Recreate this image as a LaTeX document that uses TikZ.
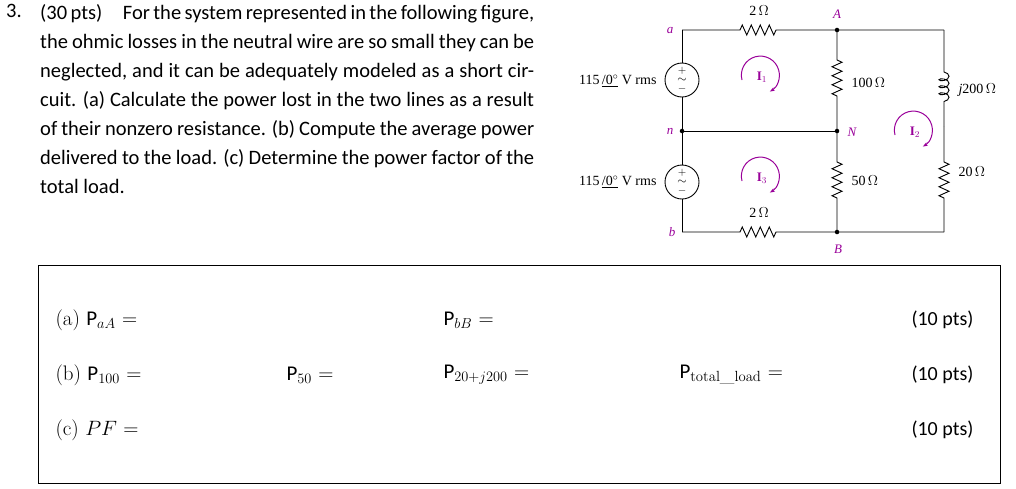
\documentclass[tikz,border=0pt]{standalone}
\usepackage{fontspec}
\newfontfamily\carl{Carlito}
\newfontfamily\tms{Liberation Serif}
\usetikzlibrary{decorations.pathmorphing,arrows.meta}
\begin{document}
\begin{tikzpicture}[x=1pt,y=-1pt,
  wire/.style={line width=0.9pt},
  zz/.style={decoration={zigzag,segment length=9,amplitude=5}},
  lbl/.style={font=\tms\fontsize{14}{14}\selectfont},
  plbl/.style={font=\tms\itshape\fontsize{13}{13}\selectfont,text=violet!80!magenta},
  dot/.style={circle,fill,inner sep=1.6pt},
  loop/.style={violet!80!magenta,line width=1pt,-{Stealth[length=5pt]}},
  row/.style={anchor=west,font=\fontsize{21}{21}\selectfont}]
\useasboundingbox (0,0) rectangle (1016,488);
% problem text
\node[anchor=north west,inner sep=0,font=\carl\fontsize{20.5}{29}\selectfont] (num) at (6,4) {3.};
\node[anchor=north west,inner sep=0,text width=494pt,align=justify,font=\carl\fontsize{20.5}{29}\selectfont] (txt) at (40,4)
{(30 pts)\quad For the system represented in the following figure, the ohmic losses in the neutral wire are so small they can be neglected, and it can be adequately modeled as a short circuit. (a) Calculate the power lost in the two lines as a result of their nonzero resistance. (b) Compute the average power delivered to the load. (c) Determine the power factor of the total load.};
% circuit coordinates
\coordinate (a) at (682,30); \coordinate (A) at (837,30); \coordinate (AR) at (944,30);
\coordinate (n) at (682,131); \coordinate (N) at (837,131);
\coordinate (b) at (682,232); \coordinate (B) at (837,232); \coordinate (BR) at (944,232);
\node[circle,draw,line width=0.9pt,minimum size=34pt,inner sep=0] (s1) at (682,80) {};
\node[circle,draw,line width=0.9pt,minimum size=34pt,inner sep=0] (s2) at (682,182) {};
\foreach \s in {s1,s2}{
  \node[font=\fontsize{11}{11}\selectfont,inner sep=0] at ([yshift=9]\s.center) {$+$};
  \node[font=\fontsize{12}{12}\selectfont,inner sep=0] at (\s.center) {$\sim$};
  \node[font=\fontsize{11}{11}\selectfont,inner sep=0] at ([yshift=-9]\s.center) {$-$};}
\draw[wire] (a) -- (s1.north) (s1.south) -- (n) -- (s2.north) (s2.south) -- (b);
\draw[wire] (a) -- (740,30) decorate[zz]{-- (779,30)} -- (A) -- (AR);
\draw[wire] (b) -- (740,232) decorate[zz]{-- (779,232)} -- (B) -- (BR);
\draw[wire] (A) -- (837,60) decorate[zz]{-- (837,99)} -- (N);
\draw[wire] (N) -- (837,162) decorate[zz]{-- (837,200)} -- (B);
\draw[wire] (BR) -- (944,198) decorate[zz]{-- (944,160)} -- (944,126);
\draw[wire] (n) -- (N);
\draw[wire] (AR) -- (944,72) decorate[decoration={coil,segment length=7,amplitude=5,aspect=0.5}]{-- (944,104)} -- (944,126);
\node[dot] (dA) at (A) {}; \node[dot] (dN) at (N) {}; \node[dot] (dn) at (n) {}; \node[dot] (dB) at (B) {};
% labels
\node[lbl] (r1) at (759,11) {2\,$\Omega$};
\node[lbl] (r2) at (759,213) {2\,$\Omega$};
\node[lbl,anchor=west] (r3) at (848,83) {100\,$\Omega$};
\node[lbl,anchor=west] (r4) at (848,181) {50\,$\Omega$};
\node[lbl,anchor=west] (r5) at (955,90) {\textit{j}200\,$\Omega$};
\node[lbl,anchor=west] (r6) at (955,172) {20\,$\Omega$};
\node[lbl,anchor=east] (v1) at (660,81) {115\,\underline{/0$^\circ$} V rms};
\node[lbl,anchor=east] (v2) at (660,182) {115\,\underline{/0$^\circ$} V rms};
\node[plbl] (la) at (670,31) {a}; \node[plbl] (lA) at (837,14) {A};
\node[plbl] (ln) at (670,131) {n}; \node[plbl] (lN) at (852,132) {N};
\node[plbl] (lb) at (672,232) {b}; \node[plbl] (lB) at (838,249) {B};
\foreach \cx/\cy/\k in {761/75/1,914/130/2,761/176/3}{
  \draw[loop] (\cx-19,\cy+5) arc[start angle=-195,end angle=60,radius=19];
  \node[font=\tms\bfseries\fontsize{13}{13}\selectfont,text=violet!80!magenta] at (\cx+1,\cy+2) {I$_{\k}$};}
% answer box
\draw[line width=0.7pt] (38,265) rectangle (1000,483);
\node[row] (ra) at (52,320) {(a) {\carl P}$_{aA}$ =};
\node[row] (rb2) at (440,320) {{\carl P}$_{bB}$ =};
\node[row,font=\carl\fontsize{20}{20}\selectfont] (p1) at (908,320) {(10 pts)};
\node[row] (rb) at (52,375) {(b) {\carl P}$_{100}$ =};
\node[row] (r50) at (283,375) {{\carl P}$_{50}$ =};
\node[row] (r20) at (440,375) {{\carl P}$_{20+j200}$ =};
\node[row] (rt) at (676,375) {{\carl P}$_{\mathrm{total\_load}}$ =};
\node[row,font=\carl\fontsize{20}{20}\selectfont] (p2) at (908,375) {(10 pts)};
\node[row] (rc) at (52,430) {(c) $PF$ =};
\node[row,font=\carl\fontsize{20}{20}\selectfont] (p3) at (908,430) {(10 pts)};
\end{tikzpicture}
\end{document}
